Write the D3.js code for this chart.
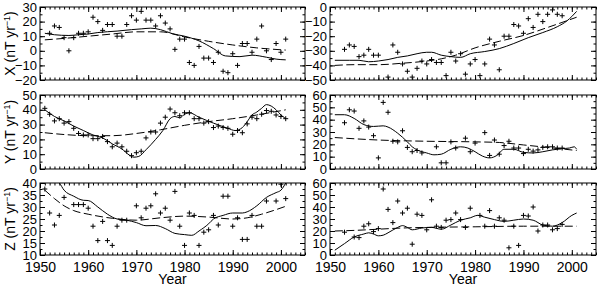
<!DOCTYPE html>
<html>
<head>
<meta charset="utf-8">
<script src="https://cdn.jsdelivr.net/npm/d3@7"></script>
<style>
  body { margin: 0; background: #fff; }
  svg { display: block; }
  text { font-family: "Liberation Sans", Arial, Helvetica, sans-serif; fill: #000; }
</style>
</head>
<body>
<div id="chart"></div>
<script>
// Data: annual points [year, value], smooth fit (solid) and long-term fit (dashed)
const xLeftPts = [[1952,12],[1953,17],[1954,16],[1955,9],[1956,0],[1957,9],[1958,12],[1959,12],[1960,13],[1961,23],[1962,20],[1963,14],[1964,18],[1965,18],[1966,10],[1967,10],[1968,18],[1969,24],[1970,21],[1971,27],[1972,21],[1973,21],[1974,17],[1975,24],[1976,19],[1977,15],[1978,1],[1979,8],[1980,8],[1981,-8],[1982,-10],[1983,3],[1984,-5],[1985,-5],[1986,-8],[1987,-1],[1988,-14],[1989,-15],[1990,-2],[1991,-10],[1992,5],[1993,5],[1994,-1],[1995,8],[1996,17],[1997,0],[1998,-6],[1999,5],[2000,-1],[2001,8]];
const xLeftSolid = [[1951,12],[1953,11],[1956,10.5],[1958,11],[1960,11.5],[1962,12.5],[1966,13.5],[1969,14.5],[1971,15],[1973,15.5],[1975,14.5],[1977.5,11.7],[1980,10],[1983,6.8],[1986,1.5],[1988.5,-3.5],[1991.5,-4],[1994,-3],[1997,-4.4],[1999,-5.7],[2001,-6.2]];
const xLeftDash = [[1951,7.5],[1955,8.5],[1960,10],[1965,11.5],[1970,13],[1975,13],[1980,9.5],[1985,6.5],[1990,4],[1995,2],[2001,0.5]];

const xRightPts = [[1953,-29],[1954,-26],[1955,-27],[1956,-34],[1957,-33],[1958,-29],[1959,-33],[1960,-33],[1962,-48],[1963,-26],[1964,-31],[1965,-39],[1966,-44],[1967,-48],[1968,-42],[1969,-37],[1970,-39],[1971,-36],[1972,-38],[1973,-38],[1974,-47],[1975,-31],[1976,-37],[1977,-32],[1978,-46],[1979,-39],[1980,-36],[1981,-47],[1982,-39],[1983,-22],[1984,-26],[1985,-43],[1986,-20],[1987,-20],[1988,-12],[1989,-13],[1990,-18],[1991,-8],[1992,-14],[1993,-5],[1994,-10],[1995,-5],[1996,-2],[1997,-5],[1998,-6]];
const xRightSolid = [[1951,-36.5],[1954,-36.5],[1956,-36.5],[1958,-37.5],[1960,-37],[1962,-36],[1964,-34.5],[1966,-33.5],[1968,-32],[1970,-31],[1971,-31],[1973,-33],[1975,-34],[1977,-34.5],[1979,-32],[1982,-30.5],[1985,-28.5],[1988,-25],[1991,-21],[1994,-17.5],[1997,-13.5],[1999,-9.5],[2000,-6.5],[2001,-3]];
const xRightDash = [[1951,-40],[1955,-39.5],[1960,-39.5],[1965,-38.5],[1970,-37],[1973,-35.5],[1976,-33],[1980,-28],[1985,-23.5],[1990,-19.5],[1995,-14],[2001,-7]];

const yLeftPts = [[1951,41],[1952,37],[1953,32.5],[1954,34],[1955,31],[1956,32],[1957,27.5],[1958,24],[1959,23],[1960,23],[1961,20.5],[1962,20.5],[1963,22],[1964,18.5],[1965,15],[1966,17.5],[1967,15],[1968,12],[1969,9],[1970,11],[1971,12],[1972,21],[1973,25],[1974,25],[1975,31],[1976,35],[1977,40.5],[1978,38],[1979,36],[1980,38],[1981,38],[1982,34],[1983,34],[1984,31],[1985,32],[1986,28],[1987,29],[1988,28],[1989,27.5],[1990,23.5],[1991,26],[1992,24.5],[1993,30.5],[1994,35],[1995,34],[1996,37],[1997,39.5],[1998,39],[1999,36.5],[2000,35.5],[2001,34]];
const yLeftSolid = [[1951,40],[1953,35.5],[1955,32.5],[1957,29],[1959,26],[1961,23],[1963,21],[1965,17],[1967,13.5],[1968.5,9.5],[1969.5,8],[1970.5,8.5],[1972,13],[1974,20],[1975.5,26],[1977,34],[1978,35.5],[1979,34.5],[1980,37],[1981,38],[1983,35],[1986,31],[1989,27.5],[1990.5,26],[1992,28],[1993,32],[1994,36.5],[1995,38.5],[1996,41],[1997,43.5],[1998,42.5],[1999,40],[2000,36.5],[2001,34]];
const yLeftDash = [[1951,24.5],[1955,23.3],[1960,22.5],[1965,22.5],[1970,24],[1975,26.5],[1980,29.5],[1985,32],[1990,34],[1995,36.5],[2001,40]];

const yRightPts = [[1953,37.5],[1954,48],[1955,47],[1956,33],[1957,39],[1958,34],[1959,27],[1960,9],[1961,54],[1962,46],[1963,22.5],[1964,22],[1965,31],[1966,17.5],[1967,14],[1968,15],[1969,13],[1972,18],[1973,5],[1974,5],[1975,22],[1976,17],[1978,25],[1979,14],[1980,21],[1982,29.5],[1983,11],[1984,23.5],[1985,12],[1986,19],[1987,22.5],[1988,17],[1989,17],[1990,12.5],[1991,16],[1992,14.5],[1993,15.5],[1994,17.5],[1995,18],[1996,18],[1997,17],[1998,17]];
const yRightSolid = [[1951,44],[1953,44],[1955,41],[1957,36],[1959,34.5],[1961,35],[1962,34],[1964,29],[1966,22],[1967,18],[1968,15.5],[1970,13],[1971.5,11.5],[1973,12],[1975,16],[1977,18],[1978.5,17],[1980,14],[1981.5,10.5],[1983,9],[1984.5,11],[1986,16],[1988,16],[1990,13.5],[1992,13],[1994,14],[1996,15.5],[1998,16.5],[1999.5,17],[2000.5,18],[2001,16]];
const yRightDash = [[1951,25.5],[1960,23.5],[1970,22.5],[1980,22],[1985,21.5],[1990,19.5],[1995,17.5],[2001,15]];

const zLeftPts = [[1951,37.5],[1952,27.5],[1953,22.5],[1954,26.5],[1955,34],[1957,31],[1958,31],[1959,31],[1960,29.5],[1961,22],[1962,16],[1963,24],[1964,16],[1965,14],[1966,22],[1967,24.5],[1968,24.5],[1970,30.5],[1971,25.5],[1972,29.5],[1973,30.5],[1974,35.5],[1975,27.5],[1976,29.5],[1977,24.5],[1978,36.5],[1979,22],[1980,14],[1981,27.5],[1982,26.5],[1983,14],[1984,19.5],[1985,20.5],[1986,26.5],[1987,22.5],[1988,34.5],[1989,34.5],[1990,22],[1991,25.5],[1992,16.5],[1993,16.5],[1994,26.5],[1995,22],[1996,22],[1997,32.5],[1999,32.5],[2000,39.5],[2001,33.5]];
const zLeftSolid = [[1951,42],[1953,41],[1954,40],[1955,37],[1957,34.5],[1959,32.8],[1960,32.7],[1962,30],[1964,27],[1966,25],[1968,24.5],[1970,23.5],[1972,22.2],[1974,22.3],[1976,21],[1978,19],[1980,18.5],[1981.5,18.2],[1983,20],[1985,23],[1986,25],[1988,26.5],[1990,27.5],[1992,27.5],[1993,28],[1995,30.5],[1997,34],[1999,36],[2000,37],[2001,40]];
const zLeftDash = [[1951,37],[1953,33.5],[1955,30.5],[1957,28.5],[1960,27],[1965,25.3],[1970,24.5],[1975,25.5],[1980,26.2],[1985,25.8],[1990,25],[1993,25.5],[1996,27],[2001,30.3]];

const zRightPts = [[1953,19],[1955,15],[1956,14.5],[1957,24],[1958,26],[1959,19.5],[1960,22],[1961,55],[1962,38],[1963,27],[1964,45],[1965,35],[1966,39],[1967,9],[1968,34],[1969,33],[1970,21],[1971,46],[1972,24],[1973,23],[1974,29],[1975,29.5],[1976,35],[1977,29.5],[1978,23],[1979,39],[1981,33],[1982,24],[1983,37],[1984,24],[1985,31],[1986,29],[1987,6],[1988,24],[1989,8],[1990,33],[1991,32.5],[1992,40],[1993,20],[1994,25],[1995,25],[1996,21],[1997,22],[1998,25.5]];
const zRightSolid = [[1951,4],[1953,9.5],[1955,15],[1957,17.5],[1958,18.5],[1959,17.5],[1960,16],[1961,16.5],[1962,18.5],[1964,23],[1965,24.5],[1966,23],[1967,21],[1969,22.5],[1971,23],[1973,21.5],[1975,25],[1977,29],[1979,31],[1980.5,33],[1982,31.5],[1984,29.5],[1986,28],[1988,29],[1990,30],[1992,29],[1994,25],[1996,24],[1998,27],[2000,33],[2001,35]];
const zRightDash = [[1951,20],[1955,20.5],[1960,21.5],[1965,22.5],[1970,23],[1980,23.5],[1990,24],[2001,24]];

const yearTicks = [1950, 1960, 1970, 1980, 1990, 2000];
const components = ["X", "Y", "Z"];

// Panel layout (pixels)
const width = 600, height = 287;
const colsPos = [{ x0: 40, x1: 305 }, { x0: 330, x1: 596 }];
const rowsPos = [{ y0: 7, y1: 80 }, { y0: 95, y1: 169 }, { y0: 183, y1: 255 }];

const panels = [
    { row: 0, col: 0, dom: [-20, 30], step: 10, pts: xLeftPts, solid: xLeftSolid, dash: xLeftDash },
    { row: 0, col: 1, dom: [-50, 0], step: 10, pts: xRightPts, solid: xRightSolid, dash: xRightDash },
    { row: 1, col: 0, dom: [0, 50], step: 10, pts: yLeftPts, solid: yLeftSolid, dash: yLeftDash },
    { row: 1, col: 1, dom: [0, 60], step: 10, pts: yRightPts, solid: yRightSolid, dash: yRightDash },
    { row: 2, col: 0, dom: [10, 40], step: 5, pts: zLeftPts, solid: zLeftSolid, dash: zLeftDash },
    { row: 2, col: 1, dom: [0, 60], step: 10, pts: zRightPts, solid: zRightSolid, dash: zRightDash }
];

const svg = d3.select("#chart")
    .append("svg")
    .attr("width", width)
    .attr("height", height);

const fontSize = 14, yTickFont = 13;

panels.forEach(function (p, i) {
    const c = colsPos[p.col], r = rowsPos[p.row];
    const x = d3.scaleLinear().domain([1950, 2005]).range([c.x0, c.x1]);
    const y = d3.scaleLinear().domain(p.dom).range([r.y1, r.y0]);
    const g = svg.append("g");

    const yMajor = d3.range(p.dom[0], p.dom[1] + 0.001, p.step);
    const yMinor = d3.range(p.dom[0], p.dom[1] + 0.001, p.step / 2);
    const years = d3.range(1950, 2006);

    // clip
    g.append("clipPath").attr("id", "clip" + i)
        .append("rect")
        .attr("x", c.x0).attr("y", r.y0)
        .attr("width", c.x1 - c.x0).attr("height", r.y1 - r.y0);

    // axes: ticks point inward on all 4 sides
    function styleAxis(sel, size) {
        sel.select(".domain").remove();
        sel.selectAll("line").attr("stroke", "#000").attr("stroke-width", 1);
        sel.selectAll("text").style("font-size", (size || fontSize) + "px").attr("fill", "#000");
    }

    const bottomLabels = p.row === 2;
    g.append("g").attr("transform", `translate(0,${r.y1})`)
        .call(d3.axisBottom(x).tickValues(years).tickSize(-2.5).tickFormat(""))
        .call(styleAxis);
    g.append("g").attr("transform", `translate(0,${r.y1})`)
        .call(d3.axisBottom(x).tickValues(yearTicks).tickSize(-5).tickPadding(7)
            .tickFormat(bottomLabels ? d3.format("d") : ""))
        .call(styleAxis);
    g.append("g").attr("transform", `translate(0,${r.y0})`)
        .call(d3.axisTop(x).tickValues(years).tickSize(-2.5).tickFormat(""))
        .call(styleAxis);
    g.append("g").attr("transform", `translate(0,${r.y0})`)
        .call(d3.axisTop(x).tickValues(yearTicks).tickSize(-5).tickFormat(""))
        .call(styleAxis);

    g.append("g").attr("transform", `translate(${c.x0},0)`)
        .call(d3.axisLeft(y).tickValues(yMinor).tickSize(-2.5).tickFormat(""))
        .call(styleAxis);
    g.append("g").attr("transform", `translate(${c.x0},0)`)
        .call(d3.axisLeft(y).tickValues(yMajor).tickSize(-5).tickPadding(3)
            .tickFormat(function (d) { return d < 0 ? "\u2212" + Math.abs(d) : d; }))
        .call(styleAxis, yTickFont);
    g.append("g").attr("transform", `translate(${c.x1},0)`)
        .call(d3.axisRight(y).tickValues(yMinor).tickSize(-2.5).tickFormat(""))
        .call(styleAxis);
    g.append("g").attr("transform", `translate(${c.x1},0)`)
        .call(d3.axisRight(y).tickValues(yMajor).tickSize(-5).tickFormat(""))
        .call(styleAxis);

    // frame
    g.append("rect")
        .attr("x", c.x0).attr("y", r.y0)
        .attr("width", c.x1 - c.x0).attr("height", r.y1 - r.y0)
        .attr("fill", "none").attr("stroke", "#000").attr("stroke-width", 1);

    const line = d3.line()
        .x(function (d) { return x(d[0]) })
        .y(function (d) { return y(d[1]) })
        .curve(d3.curveMonotoneX);

    const plot = g.append("g").attr("clip-path", `url(#clip${i})`);

    plot.append("path").datum(p.dash)
        .attr("d", line)
        .attr("fill", "none").attr("stroke", "#000").attr("stroke-width", 1)
        .attr("stroke-dasharray", "8,3.5");

    plot.append("path").datum(p.solid)
        .attr("d", line)
        .attr("fill", "none").attr("stroke", "#000").attr("stroke-width", 1);

    plot.selectAll(".pt").data(p.pts).join("path")
        .attr("class", "pt")
        .attr("transform", function (d) { return `translate(${x(d[0])},${y(d[1])})` })
        .attr("d", "M-2.5,0H2.5M0,-2.5V2.5")
        .attr("stroke", "#000").attr("stroke-width", 1).attr("fill", "none");

    // y label on left column
    if (p.col === 0) {
        const t = svg.append("text")
            .attr("transform", `translate(15,${(r.y0 + r.y1) / 2}) rotate(-90)`)
            .attr("text-anchor", "middle")
            .style("font-size", fontSize + "px");
        t.append("tspan").text(components[p.row] + " (nT yr");
        t.append("tspan").attr("dy", -5).style("font-size", "9px").text("\u22121");
        t.append("tspan").attr("dy", 5).text(")");
    }
    // x label on bottom row
    if (bottomLabels) {
        svg.append("text")
            .attr("x", (c.x0 + c.x1) / 2).attr("y", 284)
            .attr("text-anchor", "middle")
            .style("font-size", fontSize + "px")
            .text("Year");
    }
});
</script>
</body>
</html>
